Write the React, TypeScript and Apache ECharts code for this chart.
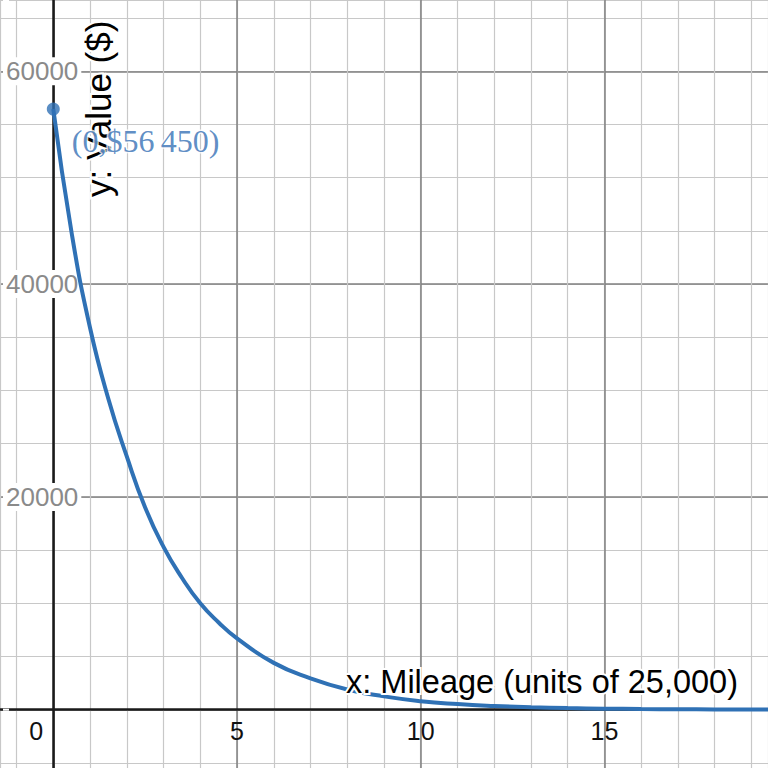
import React, { useEffect, useRef } from "react";
import * as echarts from "echarts";

const mileage = [0, 0.5, 1, 1.5, 2, 2.5, 3, 3.5, 4, 4.5, 5, 6, 7, 8, 9, 10, 11, 12, 13, 14, 15, 16, 17, 18, 19, 20];
const carValue = [56450, 44800, 35900, 29200, 23800, 19000, 15300, 12400, 10000, 8200, 6700, 4400, 2950, 1900, 1250, 800, 530, 350, 230, 150, 100, 65, 42, 28, 18, 12];
const startPoint = [0, 56450];
const xTickLabels = [0, 5, 10, 15];
const yTickLabels = [20000, 40000, 60000];
const xTitle = "x: Mileage (units of 25,000)";
const yTitle = "y: Value ($)";

export default function App() {
  const ref = useRef<HTMLDivElement>(null);

  useEffect(() => {
    const chart = echarts.init(ref.current as HTMLDivElement, null, { renderer: "svg" });
    const sans = "'Liberation Sans', Arial, Helvetica, sans-serif";
    const serif = "'Liberation Serif', 'Times New Roman', serif";
    const blue = "#2f71b5";
    const minorLine = { show: true, lineStyle: { color: "#c8c8c8", width: 1.2 } };
    const majorLine = {
      show: true,
      showMinLine: false,
      showMaxLine: false,
      lineStyle: { color: "#808080", width: 1.5 },
    };
    const fmtNum = (n: number) => String(n).replace(/\B(?=(\d{3})+(?!\d))/g, "\u2009");

    chart.setOption({
      animation: false,
      backgroundColor: "#ffffff",
      grid: { left: 0, right: 0, top: 0, bottom: 0, containLabel: false, outerBoundsMode: "none" },
      xAxis: [
        {
          type: "value",
          min: -1.45,
          max: 19.45,
          splitNumber: 20,
          minInterval: 1,
          maxInterval: 1,
          axisLine: { show: false, onZero: false },
          axisTick: { show: false },
          axisLabel: { show: false },
          splitLine: minorLine,
        },
        {
          type: "value",
          min: -1.45,
          max: 19.45,
          splitNumber: 4,
          minInterval: 5,
          maxInterval: 5,
          position: "bottom",
          axisLine: { show: true, onZero: true, onZeroAxisIndex: 1, lineStyle: { color: "#1a1a1a", width: 2.5 } },
          axisTick: { show: false },
          axisLabel: {
            show: true,
            margin: -50,
            color: "#111",
            fontSize: 25,
            fontFamily: sans,
            verticalAlign: "top",
            formatter: (v: number) =>
              !xTickLabels.includes(v) ? "" : v === 0 ? "{o|0}" : String(v),
            rich: { o: { fontSize: 25, fontFamily: sans, color: "#111", padding: [0, 34, 0, 0] } },
          },
          splitLine: majorLine,
        },
      ],
      yAxis: [
        {
          type: "value",
          min: -5480,
          max: 66700,
          splitNumber: 14,
          minInterval: 5000,
          maxInterval: 5000,
          position: "left",
          axisLine: { show: false, onZero: false },
          axisTick: { show: false },
          axisLabel: { show: false },
          splitLine: minorLine,
        },
        {
          type: "value",
          min: -5480,
          max: 66700,
          splitNumber: 4,
          minInterval: 20000,
          maxInterval: 20000,
          position: "left",
          axisLine: { show: true, onZero: true, onZeroAxisIndex: 1, lineStyle: { color: "#1a1a1a", width: 2.5 } },
          axisTick: { show: false },
          axisLabel: {
            show: true,
            align: "left",
            margin: -3,
            color: "#8a8a8a",
            fontSize: 26,
            fontFamily: sans,
            backgroundColor: "#ffffff",
            padding: [1, 3, 1, 3],
            formatter: (v: number) => (yTickLabels.includes(v) ? String(v) : ""),
          },
          splitLine: majorLine,
        },
      ],
      graphic: [
        {
          type: "text",
          x: 98,
          y: 197,
          rotation: Math.PI / 2,
          z: 5,
          style: {
            text: yTitle,
            fontSize: 35,
            fontFamily: sans,
            fill: "#000",
            stroke: "#fff",
            lineWidth: 4,
            align: "left",
            verticalAlign: "middle",
          },
        },
        {
          type: "text",
          x: 346,
          y: 682,
          z: 10,
          style: {
            text: xTitle,
            fontSize: 32.5,
            fontFamily: sans,
            fill: "#000",
            stroke: "#fff",
            lineWidth: 4,
            align: "left",
            verticalAlign: "middle",
          },
        },
      ],
      series: [
        {
          type: "line",
          xAxisIndex: 0,
          yAxisIndex: 0,
          data: mileage.map((x, i) => [x, carValue[i]]),
          smooth: 0.5,
          showSymbol: false,
          symbol: "none",
          silent: true,
          z: 3,
          lineStyle: { color: blue, width: 4 },
        },
        {
          type: "scatter",
          xAxisIndex: 0,
          yAxisIndex: 0,
          data: [startPoint],
          symbolSize: 13,
          z: 20,
          itemStyle: { color: blue },
          label: {
            show: true,
            position: "right",
            distance: 12,
            offset: [0, 32],
            formatter: (p: any) => `(${p.value[0]},$${fmtNum(p.value[1])})`,
            color: "#3570b5",
            fontSize: 32,
            fontFamily: serif,
            textBorderColor: "#fff",
            textBorderWidth: 3,
          },
        },
      ],
    });

    return () => chart.dispose();
  }, []);

  return (
    <div
      ref={ref}
      style={{ position: "fixed", left: 0, top: 0, width: 768, height: 768, background: "#fff" }}
    />
  );
}
